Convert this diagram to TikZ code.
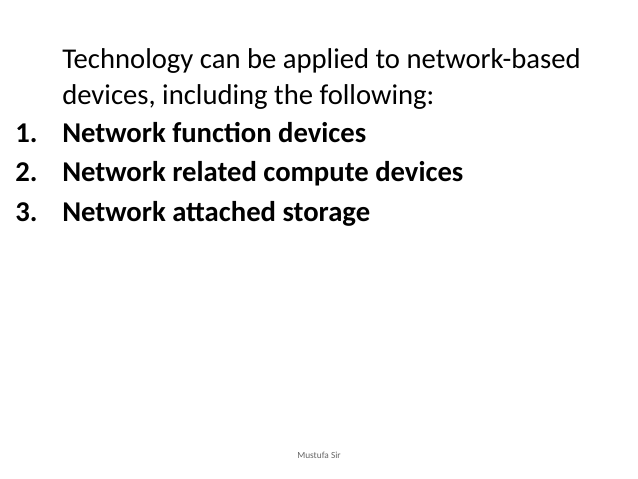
\documentclass[tikz,border=0pt]{standalone}
\usepackage{fontspec}
\setmainfont{Carlito}
\begin{document}
\begin{tikzpicture}[x=0.75pt,y=-0.75pt,
  txt/.style={anchor=base west,inner sep=0pt,font=\fontsize{21.5pt}{26pt}\selectfont},
  btxt/.style={txt,font=\fontsize{21.5pt}{26pt}\selectfont\bfseries}]
\useasboundingbox[fill=white] (0,0) rectangle (638,478);
\node[txt] (l1) at (62,69) {Technology can be applied to network-based};
\node[txt] (l2) at (62,104) {devices, including the following:};
\node[btxt] (n1) at (15,142) {1.};
\node[btxt] (t1) at (62,142) {Network function devices};
\node[btxt] (n2) at (15,181) {2.};
\node[btxt] (t2) at (62,181) {Network related compute devices};
\node[btxt] (n3) at (15,221) {3.};
\node[btxt] (t3) at (62,221) {Network attached storage};
\node[inner sep=0pt,font=\fontsize{7pt}{8pt}\selectfont,text=gray!80!black] (f) at (319,455) {Mustufa Sir};
\end{tikzpicture}
\end{document}
